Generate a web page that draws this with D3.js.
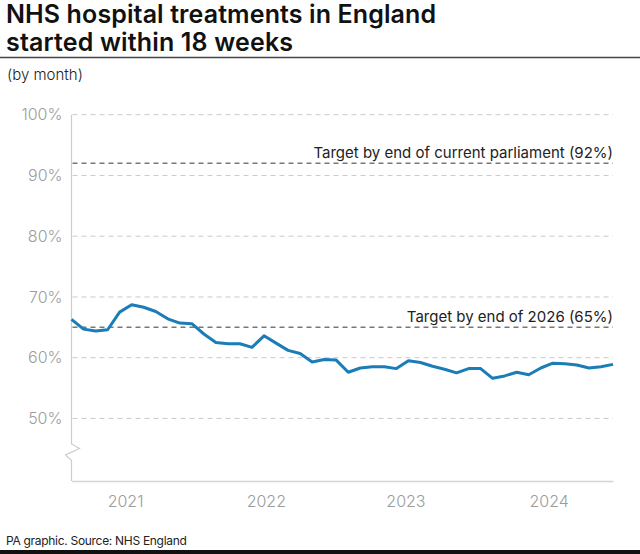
<!DOCTYPE html>
<html>
  <head>
    <meta charset="utf-8">
    <script src="https://d3js.org/d3.v7.min.js"></script>
    <style>
      body { margin: 0; background: #fff; }
      text { font-family: Inter, "Noto Sans", sans-serif; }
    </style>
  </head>
  <body>
    <svg width="640" height="554"></svg>
    <script>

      // monthly share of treatments started within 18 weeks (%), Jan 2021 - Oct 2024
      const months = [
        "2021-01","2021-02","2021-03","2021-04","2021-05","2021-06","2021-07","2021-08","2021-09","2021-10","2021-11","2021-12",
        "2022-01","2022-02","2022-03","2022-04","2022-05","2022-06","2022-07","2022-08","2022-09","2022-10","2022-11","2022-12",
        "2023-01","2023-02","2023-03","2023-04","2023-05","2023-06","2023-07","2023-08","2023-09","2023-10","2023-11","2023-12",
        "2024-01","2024-02","2024-03","2024-04","2024-05","2024-06","2024-07","2024-08","2024-09","2024-10"
      ];
      const within18 = [
        66.3, 64.7, 64.4, 64.6, 67.5, 68.7, 68.3, 67.6, 66.4, 65.7, 65.6, 63.9,
        62.5, 62.3, 62.3, 61.7, 63.6, 62.4, 61.2, 60.7, 59.3, 59.7, 59.6, 57.6,
        58.3, 58.5, 58.5, 58.2, 59.5, 59.2, 58.6, 58.1, 57.5, 58.2, 58.2, 56.6,
        57.0, 57.6, 57.2, 58.3, 59.1, 59.0, 58.8, 58.3, 58.5, 58.9
      ];

      const yTicks = [50, 60, 70, 80, 90, 100];
      const yearLabels = ["2021", "2022", "2023", "2024"];
      const yearTickAt = [4.45, 16.15, 27.75, 39.65]; // month index under each year label

      const targets = [
        { value: 92, label: "Target by end of current parliament (92%)" },
        { value: 65, label: "Target by end of 2026 (65%)" }
      ];

      const plotLeft = 71.5, plotRight = 613, plotTop = 114.7, plotBottom = 481;
      const yFloor = 39.7;

      const svg = d3.select("svg");

      // title block
      const titleLines = [
        { text: "NHS hospital treatments in England", y: 22.5, len: 430 },
        { text: "started within 18 weeks", y: 50.5, len: 287 }
      ];
      svg.selectAll(".title")
        .data(titleLines)
        .join("text")
          .attr("class", "title")
          .attr("x", 6)
          .attr("y", d => d.y)
          .attr("textLength", d => d.len)
          .attr("lengthAdjust", "spacing")
          .style("font-size", "25px")
          .style("font-weight", 600)
          .attr("fill", "#111")
          .text(d => d.text);

      svg.append("line")
          .attr("x1", 0).attr("x2", 640)
          .attr("y1", 57.5).attr("y2", 57.5)
          .attr("stroke", "#444")
          .attr("stroke-width", 1.5);

      svg.append("text")
          .attr("x", 7)
          .attr("y", 80)
          .style("font-size", "15px")
          .style("font-weight", 300)
          .attr("fill", "#222")
          .text("(by month)");

      const x = d3.scaleLinear()
          .domain([0, months.length - 1])
          .range([plotLeft, plotRight]);

      const y = d3.scaleLinear()
          .domain([yFloor, 100])
          .range([plotBottom, plotTop]);

      // gridlines
      svg.append("g")
        .selectAll("line")
        .data(yTicks)
        .join("line")
          .attr("x1", plotLeft + 1).attr("x2", plotRight)
          .attr("y1", d => y(d)).attr("y2", d => y(d))
          .attr("stroke", "#c9c9c9")
          .attr("stroke-dasharray", "5,4");

      // y axis labels
      const yAxis = svg.append("g")
          .attr("transform", `translate(${plotLeft}, 0)`)
          .call(d3.axisLeft(y).tickValues(yTicks).tickSize(0).tickPadding(9).tickFormat(d => d + "%"));
      yAxis.select(".domain").remove();
      yAxis.selectAll("text")
          .style("font-size", "16px")
          .style("font-weight", 300)
          .style("font-family", "Inter, sans-serif")
          .attr("fill", "#9c9c9c");

      // left axis with break
      const bx = plotLeft;
      const brk = d3.path();
      brk.moveTo(bx, plotTop);
      brk.lineTo(bx, 444);
      brk.lineTo(bx + 8, 448.5);
      brk.lineTo(bx - 6, 455);
      brk.lineTo(bx, 460.5);
      brk.lineTo(bx, plotBottom);
      svg.append("path")
          .attr("d", brk.toString())
          .attr("fill", "none")
          .attr("stroke", "#ccc")
          .attr("stroke-width", 1.2);

      // x axis
      const xAxis = svg.append("g")
          .attr("transform", `translate(0, ${plotBottom})`)
          .call(d3.axisBottom(x).tickValues(yearTickAt).tickSize(0).tickPadding(15)
            .tickFormat((d, i) => yearLabels[i]));
      xAxis.select(".domain")
          .attr("stroke", "#d4d4d4")
          .attr("stroke-width", 1.5);
      xAxis.selectAll("text")
          .style("font-size", "16px")
          .style("font-weight", 300)
          .style("font-family", "Inter, sans-serif")
          .attr("fill", "#9c9c9c");

      // target lines
      const tg = svg.append("g");
      tg.selectAll("line")
        .data(targets)
        .join("line")
          .attr("x1", plotLeft + 1).attr("x2", plotRight)
          .attr("y1", d => y(d.value)).attr("y2", d => y(d.value))
          .attr("stroke", "#777")
          .attr("stroke-width", 1.4)
          .attr("stroke-dasharray", "5,4");
      tg.selectAll("text")
        .data(targets)
        .join("text")
          .attr("x", plotRight)
          .attr("y", d => y(d.value) - 5.5)
          .attr("text-anchor", "end")
          .style("font-size", "15px")
          .style("font-weight", 400)
          .attr("fill", "#222")
          .text(d => d.label);

      // series line
      const line = d3.line()
          .x((d, i) => x(i))
          .y(d => y(d));

      svg.append("path")
          .datum(within18)
          .attr("d", line)
          .attr("fill", "none")
          .attr("stroke", "#1a7db8")
          .attr("stroke-width", 3)
          .attr("stroke-linejoin", "round");

      // footer
      svg.append("text")
          .attr("x", 6)
          .attr("y", 545)
          .style("font-size", "12px")
          .style("letter-spacing", "-0.3px")
          .attr("fill", "#222")
          .text("PA graphic. Source: NHS England");

      svg.append("rect")
          .attr("x", 0).attr("y", 550)
          .attr("width", 640).attr("height", 4)
          .attr("fill", "#111");

    </script>
  </body>
</html>
